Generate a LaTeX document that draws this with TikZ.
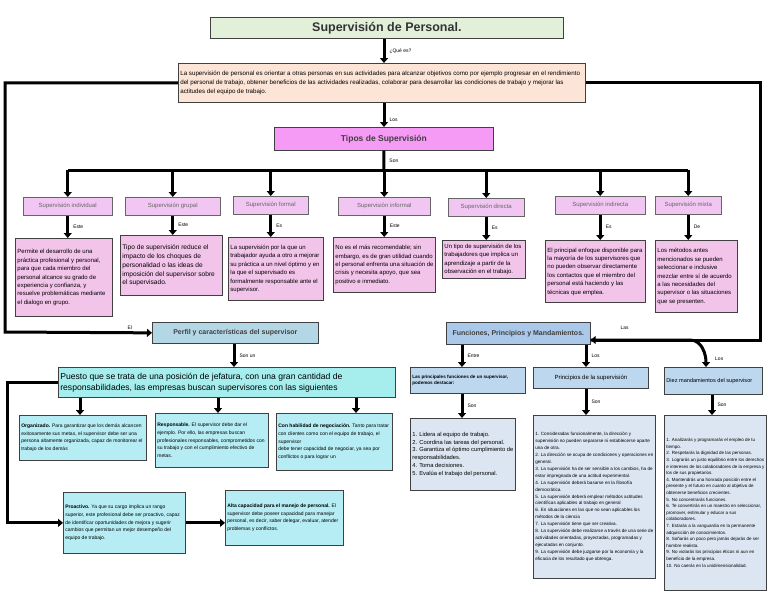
\documentclass[tikz,border=0pt]{standalone}
\usepackage{fontspec}
\setmainfont{Liberation Sans}
\usetikzlibrary{arrows.meta, positioning}
\definecolor{titlegreen}{HTML}{E2EFD9}
\definecolor{peach}{HTML}{FCE4D6}
\definecolor{violet}{HTML}{F59AF5}
\definecolor{lightpink}{HTML}{F2C6F2}
\definecolor{descpink}{HTML}{F2C4EA}
\definecolor{steel}{HTML}{B4D7E6}
\definecolor{cyanbox}{HTML}{A6EEEE}
\definecolor{cyanlight}{HTML}{B6EDF4}
\definecolor{funcblue}{HTML}{A9C8EA}
\definecolor{listblue}{HTML}{DCE6F2}
\definecolor{headblue}{HTML}{BDD7EE}
\hyphenpenalty=10000
\exhyphenpenalty=10000
\begin{document}
\begin{tikzpicture}[
    x=1pt, y=-1pt,
    box/.style={draw=black!75, line width=0.7pt, anchor=north west, inner sep=2pt, align=flush left, font=\fontsize{6}{8.4}\selectfont},
    typebox/.style={draw=black!60, line width=0.5pt, fill=lightpink, anchor=north west, inner sep=2pt, font=\fontsize{6}{7}\selectfont\color{black!60}, align=left},
    desc/.style={box, fill=descpink, line width=0.9pt},
    lbl/.style={font=\fontsize{5}{6}\selectfont, anchor=west, inner sep=1pt},
    line/.style={line width=3pt},
    arr/.style={line width=3pt, -{Triangle[length=5pt, width=8pt]}}
    ]
    \useasboundingbox (0,0) rectangle (768,598);

    % Top
    \node (title) [box, fill=titlegreen, minimum width=353, minimum height=21, align=center, font=\bfseries\fontsize{12.5}{13}\selectfont\color{black!80}] at (210,17) {Supervisión de Personal.};
    \node (defin) [box, fill=peach, text width=403, minimum height=39, font=\fontsize{6.2}{9.3}\selectfont] at (178,63) {La supervisión de personal es orientar a otras personas en sus actividades para alcanzar objetivos como por ejemplo progresar en el rendimiento del personal de trabajo, obtener beneficios de las actividades realizadas, colaborar para desarrollar las condiciones de trabajo y mejorar las actitudes del equipo de trabajo.};
    \node (tipos) [box, fill=violet, minimum width=219, minimum height=23, align=center, font=\bfseries\fontsize{8.5}{10}\selectfont\color{black!75}] at (274,127) {Tipos de Supervisión};

    \draw[arr] (title.south -| 384,0) -- (defin.north -| 384,0) node[lbl, midway, right=3pt] {¿Qué es?};
    \draw[arr] (defin.south -| 384,0) -- (tipos.north -| 384,0) node[lbl, pos=0.7, right=3pt] {Los};

    % Types
    \node (ind) [typebox, minimum width=89, minimum height=18] at (23,197) {Supervisión individual};
    \node (gru) [typebox, minimum width=95, minimum height=18] at (125,197) {Supervisión grupal};
    \node (for) [typebox, minimum width=75, minimum height=18] at (233,196) {Supervisión formal};
    \node (inf) [typebox, minimum width=92, minimum height=18] at (338,197) {Supervisión informal};
    \node (dir) [typebox, minimum width=76, minimum height=18] at (448,198) {Supervisión directa};
    \node (indi) [typebox, minimum width=90, minimum height=18] at (555,196) {Supervisión indirecta};
    \node (mix) [typebox, minimum width=66, minimum height=18] at (655,196) {Supervisión mixta};

    \coordinate (bus) at (384,170);
    \draw[line] (tipos.south) -- (bus) node[lbl, midway, right=3pt] {Son};
    \draw[line] (ind.north |- bus) -- (mix.north |- bus);
    \foreach \n in {ind,gru,for,inf,dir,indi,mix}
      \draw[arr] (\n.north |- bus) -- (\n.north);

    % Descriptions
    \node (dind) [desc, text width=93, minimum height=78] at (15,238) {Permite el desarrollo de una práctica profesional y personal, para que cada miembro del personal alcance su grado de experiencia y confianza, y resuelve problemáticas mediante el dialogo en grupo.};
    \node (dgru) [desc, text width=98, minimum height=60, font=\fontsize{6.6}{8.8}\selectfont] at (120,235) {Tipo de supervisión reduce el impacto de los choques de personalidad o las ideas de imposición del supervisor sobre el supervisado.};
    \node (dfor) [desc, text width=91, minimum height=63] at (228,237) {La supervisión por la que un trabajador ayuda a otro a mejorar su práctica a un nivel óptimo y en la que el supervisado es formalmente responsable ante el supervisor.};
    \node (dinf) [desc, text width=98, minimum height=55] at (333,237) {No es el más recomendable; sin embargo, es de gran utilidad cuando el personal enfrenta una situación de crisis y necesita apoyo, que sea positivo e inmediato.};
    \node (ddir) [desc, text width=79, minimum height=38] at (442,240) {Un tipo de supervisión de los trabajadores que implica un aprendizaje a partir de la observación en el trabajo.};
    \node (dindi) [desc, text width=96, minimum height=62] at (545,240) {El principal enfoque disponible para la mayoría de los supervisores que no pueden observar directamente los contactos que el miembro del personal está haciendo y las técnicas que emplea.};
    \node (dmix) [desc, text width=78, minimum height=72] at (655,240) {Los métodos antes mencionados se pueden seleccionar e inclusive mezclar entre sí de acuerdo a las necesidades del supervisor o las situaciones que se presenten.};

    \draw[arr] (ind) -- (ind |- dind.north) node[lbl, midway, right=3pt] {Este};
    \draw[arr] (gru) -- (gru |- dgru.north) node[lbl, midway, right=3pt] {Este};
    \draw[arr] (for) -- (for |- dfor.north) node[lbl, midway, right=3pt] {Es};
    \draw[arr] (inf) -- (inf |- dinf.north) node[lbl, midway, right=3pt] {Este};
    \draw[arr] (dir) -- (dir |- ddir.north) node[lbl, midway, right=3pt] {Es};
    \draw[arr] (indi) -- (indi |- dindi.north) node[lbl, midway, right=3pt] {Es};
    \draw[arr] (mix) -- (mix |- dmix.north) node[lbl, midway, right=3pt] {De};

    % Perfil
    \node (perfil) [box, fill=steel, minimum width=166, minimum height=21, align=center, font=\bfseries\fontsize{7}{8}\selectfont\color{black!75}] at (152,322) {Perfil y características del supervisor};
    \coordinate (lcorner) at (5,332);
    \draw[arr] (defin.west) -| (lcorner) -- (perfil.west) node[lbl, pos=0.85, above=1pt] {El};

    \node (puesto) [box, fill=cyanbox, text width=333, minimum height=30, font=\fontsize{8.6}{11}\selectfont] at (58,367) {Puesto que se trata de una posición de jefatura, con una gran cantidad de responsabilidades, las empresas buscan supervisores con las siguientes};
    \draw[arr] (perfil.south -| 234,0) -- (puesto.north -| 234,0) node[lbl, midway, right=3pt] {Son un};

    \node (org) [box, fill=cyanlight, text width=123, minimum height=45, font=\fontsize{5}{7.6}\selectfont] at (19,415) {\textbf{Organizado.} Para garantizar que los demás alcancen exitosamente sus metas, el supervisor debe ser una persona altamente organizada, capaz de monitorear el trabajo de los demás};
    \node (resp) [box, fill=cyanlight, text width=109, minimum height=54, font=\fontsize{5}{7.6}\selectfont] at (155,413) {\textbf{Responsable.} El supervisor debe dar el ejemplo. Por ello, las empresas buscan profesionales responsables, comprometidos con su trabajo y con el cumplimiento efectivo de metas.};
    \node (nego) [box, fill=cyanlight, text width=112, minimum height=57, font=\fontsize{5}{7.6}\selectfont] at (276,413) {\textbf{Con habilidad de negociación.} Tanto para tratar con clientes como con el equipo de trabajo, el supervisor\\debe tener capacidad de negociar, ya sea por conflictos o para lograr un};
    \draw[arr] (puesto.south -| 80,0) -- (80,415);
    \draw[arr] (puesto.south -| 218,0) -- (resp.north -| 218,0);
    \draw[arr] (puesto.south -| 356,0) -- (nego.north -| 356,0);

    \node (proa) [box, fill=cyanlight, text width=118, minimum height=61, font=\fontsize{5}{7.6}\selectfont] at (63,492) {\textbf{Proactivo.} Ya que su cargo implica un rango superior, este profesional debe ser proactivo, capaz de identificar oportunidades de mejora y sugerir cambios que permitan un mejor desempeño del equipo de trabajo.};
    \node (alta) [box, fill=cyanlight, text width=114, minimum height=55, font=\fontsize{5}{7.6}\selectfont] at (225,490) {\textbf{Alta capacidad para el manejo de personal.} El supervisor debe poseer capacidad para manejar\\personal, es decir, saber delegar, evaluar, atender problemas y conflictos.};
    \coordinate (pcorner) at (7,382);
    \draw[arr] (puesto.west |- pcorner) -- (pcorner) |- (proa.west);
    \draw[arr] (proa.east) -- (alta.west |- proa.east);

    % Funciones
    \node (func) [box, fill=funcblue, minimum width=144, minimum height=22, align=center, font=\bfseries\fontsize{7}{8}\selectfont\color{black!75}] at (446,322) {Funciones, Principios y Mandamientos.};
    \coordinate (rcorner) at (760,340);
    \draw[arr] (defin.east) -| (rcorner) -- (func.east |- rcorner) node[lbl, pos=0.8, above=8pt] {Las};

    \node (fhead) [box, fill=headblue, text width=111, minimum height=26, font=\bfseries\fontsize{4.6}{6.6}\selectfont] at (410,367) {Las principales funciones de un supervisor, podemos destacar:};
    \node (phead) [box, fill=headblue, minimum width=115, minimum height=21, align=center, font=\fontsize{6}{7}\selectfont] at (533,367) {Principios de la supervisión};
    \node (dhead) [box, fill=headblue, text width=94, minimum height=27, font=\fontsize{5.6}{7}\selectfont] at (664,367) {Diez mandamientos del supervisor};

    \draw[arr] (func.south -| 462,0) -- (fhead.north -| 462,0) node[lbl, midway, right=3pt] {Entre};
    \draw[arr] (func.south -| 586,0) -- (phead.north -| 586,0) node[lbl, midway, right=3pt] {Los};
    \draw[arr] (func.east |- 0,340) -- (690,340) to[out=0, in=90] (dhead.north -| 706,0);
    \node[lbl] at (714,359) {Los};

    \node (flist) [box, fill=listblue, text width=101, minimum height=72, font=\fontsize{5.8}{7.8}\selectfont] at (410,418) {1. Lidera al equipo de trabajo.\\2. Coordina las tareas del personal.\\3. Garantiza el óptimo cumplimiento de responsabilidades.\\4. Toma decisiones.\\5. Evalúa el trabajo del personal.};
    \node (plist) [box, fill=listblue, text width=118, minimum height=163, font=\fontsize{4.6}{6.9}\selectfont] at (533,415) {1. Consideradas funcionalmente, la dirección y supervisión no pueden separarse ni establecerse aparte una de otra.\\2. La dirección se ocupa de condiciones y operaciones en general.\\3. La supervisión ha de ser sensible a los cambios, ha de estar impregnada de una actitud experimental.\\4. La supervisión deberá basarse en la filosofía democrática.\\5. La supervisión deberá emplear métodos actitudes científicas aplicables al trabajo en general\\6. En situaciones en las que no sean aplicables los métodos de la ciencia\\7. La supervisión tiene que ser creativa.\\8. La supervisión debe realizarse a través de una serie de actividades orientadas, proyectadas, programadas y ejecutadas en conjunto.\\9. La supervisión debe juzgarse por la economía y la eficacia de los resultado que obtenga.};
    \node (dlist) [box, fill=listblue, text width=98, minimum height=175, font=\fontsize{4.5}{6.6}\selectfont] at (664,415) {1. Analizarás y programarás el empleo de tu tiempo.\\2. Respetarás la dignidad de las personas.\\3. Lograrás un justo equilibrio entre los derechos e intereses de los colaboradores de la empresa y los de sus propietarios.\\4. Mantendrás una honrada posición entre el presente y el futuro en cuanto al objetivo de obtenerse beneficios crecientes.\\5. No concentrarás funciones.\\6. Te convertirás en un maestro en seleccionar, promover, estimular y educar a sus colaboradores.\\7. Estarás a la vanguardia en la permanente adquisición de conocimientos.\\8. Soñarás un poco pero jamás dejarás de ser hombre realista.\\9. No violarás los principios éticos ni aun en beneficio de la empresa.\\10. No caerás en la unidimensionalidad.};

    \draw[arr] (fhead.south -| 462,0) -- (flist.north -| 462,0) node[lbl, midway, right=3pt] {Son};
    \draw[arr] (phead.south -| 586,0) -- (plist.north -| 586,0) node[lbl, midway, right=3pt] {Son};
    \draw[arr] (dhead.south -| 712,0) -- (dlist.north -| 712,0) node[lbl, midway, right=3pt] {Son};
  \end{tikzpicture}
\end{document}
